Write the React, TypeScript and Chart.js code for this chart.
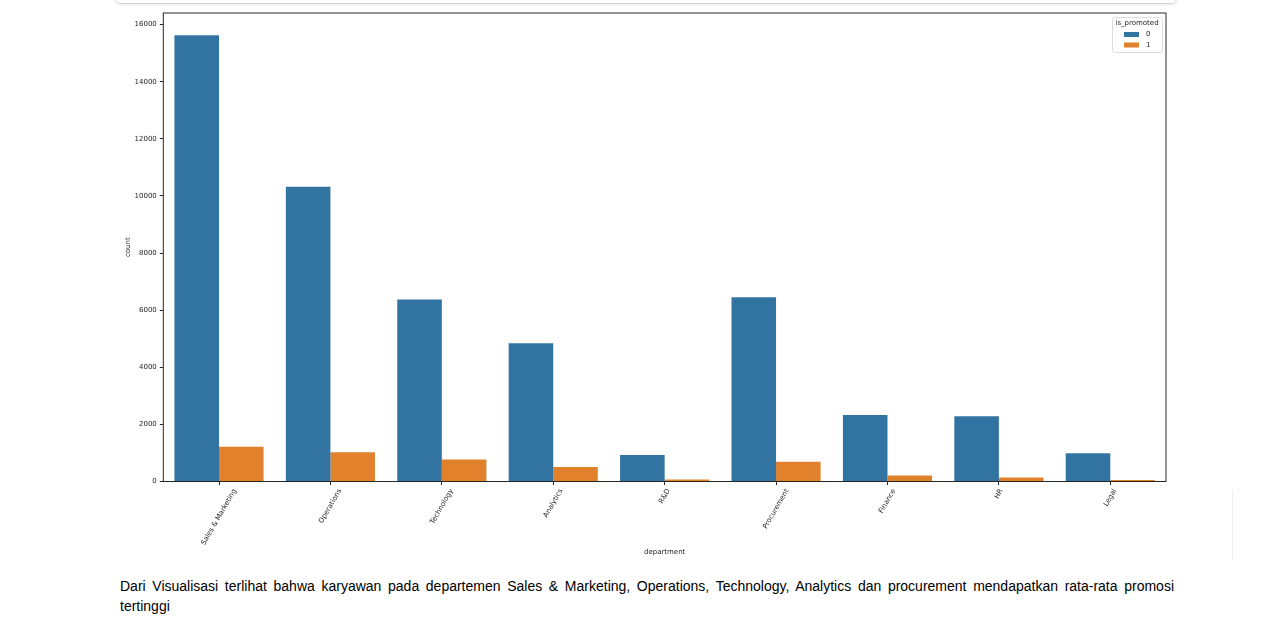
import React, { useEffect, useRef } from "react";
import { Chart, registerables } from "chart.js";

Chart.register(...registerables);

const departments = ["Sales & Marketing", "Operations", "Technology", "Analytics", "R&D", "Procurement", "Finance", "HR", "Legal"];
const notPromoted = [15627, 10325, 6370, 4840, 930, 6450, 2330, 2282, 986];
const promoted = [1213, 1023, 768, 512, 69, 688, 206, 136, 53];
const seriesLabels = ["0", "1"];
const legendTitle = "is_promoted";
const xTitle = "department";
const yTitle = "count";
const yMax = 16408;
const yTickValues = [0, 2000, 4000, 6000, 8000, 10000, 12000, 14000, 16000];
const captionLine1 = "Dari Visualisasi terlihat bahwa karyawan pada departemen Sales & Marketing, Operations, Technology, Analytics dan procurement mendapatkan rata-rata promosi";
const captionLine2 = "tertinggi";

const BLUE = "#3274a1";
const ORANGE = "#e1812c";
const INK = "#262626";
const FONT_SIZE = 7;
const FONT = `${FONT_SIZE}px "DejaVu Sans"`;

const decorPlugin = {
  id: "decor",
  afterDraw(chart: any) {
    const ctx = chart.ctx;
    const ca = chart.chartArea;
    ctx.save();
    ctx.strokeStyle = INK;
    ctx.lineWidth = 1;
    ctx.strokeRect(ca.left, ca.top, ca.right - ca.left, ca.bottom - ca.top);

    const xs = chart.scales.x;
    ctx.font = FONT;
    ctx.fillStyle = INK;
    const a = Math.PI / 3;
    departments.forEach((d, i) => {
      const px = xs.getPixelForTick(i);
      const L = ctx.measureText(d).width;
      const h = FONT_SIZE * 1.17;
      const H = L * Math.sin(a) + h * Math.cos(a);
      const cy = ca.bottom + 6 + H / 2;
      ctx.save();
      ctx.translate(px, cy);
      ctx.rotate(-a);
      ctx.textAlign = "center";
      ctx.textBaseline = "middle";
      ctx.fillText(d, 0, 0);
      ctx.restore();
    });

    ctx.textAlign = "center";
    ctx.textBaseline = "middle";
    ctx.fillText(xTitle, (ca.left + ca.right) / 2, 552);
    ctx.save();
    ctx.translate(28, (ca.top + ca.bottom) / 2);
    ctx.rotate(-Math.PI / 2);
    ctx.fillText(yTitle, 0, 0);
    ctx.restore();

    const bx = ca.right - 54;
    const by = ca.top + 4;
    const bw = 50;
    const bh = 35;
    ctx.fillStyle = "rgba(255,255,255,0.8)";
    ctx.strokeStyle = "#dcdcdc";
    ctx.lineWidth = 1;
    ctx.beginPath();
    if ((ctx as any).roundRect) (ctx as any).roundRect(bx + 0.5, by + 0.5, bw, bh, 2);
    else ctx.rect(bx + 0.5, by + 0.5, bw, bh);
    ctx.fill();
    ctx.stroke();
    ctx.fillStyle = INK;
    ctx.textAlign = "center";
    ctx.fillText(legendTitle, bx + bw / 2, by + 6);
    const colors = [BLUE, ORANGE];
    seriesLabels.forEach((lab, i) => {
      const y = by + 17.5 + i * 10.5;
      ctx.fillStyle = colors[i];
      ctx.fillRect(bx + 12, y - 2.5, 15, 5);
      ctx.fillStyle = INK;
      ctx.textAlign = "left";
      ctx.fillText(lab, bx + 34, y);
    });
    ctx.restore();
  },
};

function ChartBox() {
  const ref = useRef<HTMLCanvasElement>(null);
  useEffect(() => {
    if (!ref.current) return;
    const chart = new Chart(ref.current, {
      type: "bar",
      data: {
        labels: departments,
        datasets: [
          { label: seriesLabels[0], data: notPromoted, backgroundColor: BLUE, borderWidth: 0 },
          { label: seriesLabels[1], data: promoted, backgroundColor: ORANGE, borderWidth: 0 },
        ],
      },
      options: {
        animation: false,
        responsive: false,
        layout: { padding: { top: 13, right: 4, bottom: 0, left: 0 } },
        plugins: { legend: { display: false }, tooltip: { enabled: false } },
        datasets: { bar: { categoryPercentage: 0.8, barPercentage: 1.0 } },
        scales: {
          x: {
            offset: true,
            grid: { display: true, drawOnChartArea: false, drawTicks: true, tickLength: 3.5, offset: false, color: INK },
            border: { display: false },
            ticks: { display: false },
            afterFit(scale: any) {
              scale.height = 83.5;
            },
          },
          y: {
            min: 0,
            max: yMax,
            grid: { display: true, drawOnChartArea: false, drawTicks: true, tickLength: 3.5, color: INK },
            border: { display: false },
            afterBuildTicks(scale: any) {
              scale.ticks = yTickValues.map((v) => ({ value: v }));
            },
            ticks: {
              autoSkip: false,
              padding: 3,
              color: INK,
              font: { family: "DejaVu Sans", size: FONT_SIZE },
              callback: (v: any) => String(v),
            },
            afterFit(scale: any) {
              scale.width = 63.3;
            },
          },
        },
      },
      plugins: [decorPlugin],
    });
    return () => chart.destroy();
  }, []);
  return (
    <canvas
      ref={ref}
      width={1070}
      height={565}
      style={{ position: "absolute", left: 100, top: 0, width: 1070, height: 565 }}
    />
  );
}

export default function App() {
  return (
    <div style={{ position: "absolute", left: 0, top: 0, width: 1280, height: 626, overflow: "hidden", background: "#fff" }}>
      <div
        style={{
          position: "absolute",
          left: 115,
          top: -30,
          width: 1060,
          height: 32,
          border: "1px solid #d6d6d6",
          borderRadius: 5,
          boxShadow: "0 1px 2px rgba(0,0,0,0.08)",
        }}
      />
      <ChartBox />
      <div style={{ position: "absolute", left: 1232, top: 490, width: 1, height: 70, background: "#eeeeee" }} />
      <div
        style={{
          position: "absolute",
          left: 120,
          top: 577,
          width: 1054,
          fontFamily: '"Liberation Sans", Arial, sans-serif',
          fontSize: 14,
          lineHeight: "18px",
          color: "#000",
          textAlign: "justify",
          textAlignLast: "justify" as any,
          whiteSpace: "nowrap" as any,
        }}
      >
        {captionLine1}
      </div>
      <div
        style={{
          position: "absolute",
          left: 120,
          top: 597,
          fontFamily: '"Liberation Sans", Arial, sans-serif',
          fontSize: 14,
          lineHeight: "18px",
          color: "#000",
        }}
      >
        {captionLine2}
      </div>
    </div>
  );
}
